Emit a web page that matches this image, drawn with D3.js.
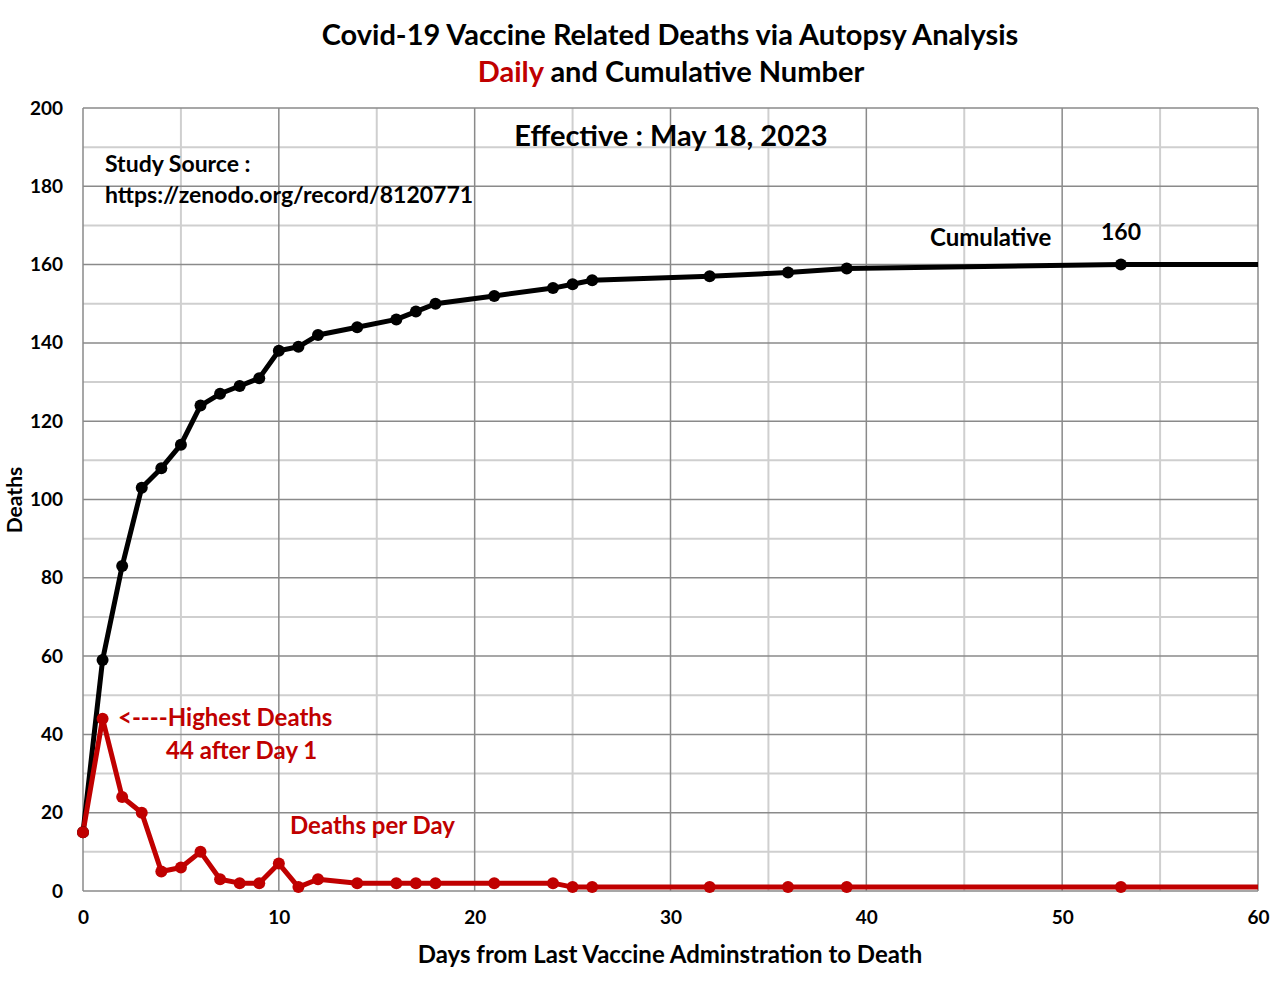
<!DOCTYPE html>
<html>
<head>
<meta charset="utf-8">
<script src="https://cdn.jsdelivr.net/npm/d3@7"></script>
<style>
  body { margin: 0; background: #fff; }
  text { font-family: Lato, "Open Sans", sans-serif; font-weight: bold; }
</style>
</head>
<body>
<div id="chart-area"></div>
<script>
// data
const days       = [0, 1, 2, 3, 4, 5, 6, 7, 8, 9, 10, 11, 12, 14, 16, 17, 18, 21, 24, 25, 26, 32, 36, 39, 53, 60];
const daily      = [15, 44, 24, 20, 5, 6, 10, 3, 2, 2, 7, 1, 3, 2, 2, 2, 2, 2, 2, 1, 1, 1, 1, 1, 1, 1];
const cumulative = [15, 59, 83, 103, 108, 114, 124, 127, 129, 131, 138, 139, 142, 144, 146, 148, 150, 152, 154, 155, 156, 157, 158, 159, 160, 160];
const xTicks = [0, 10, 20, 30, 40, 50, 60];
const yTicks = [0, 20, 40, 60, 80, 100, 120, 140, 160, 180, 200];

const red = "#c00000";

// margins
let margin = { lft: 83, rht: 29, top: 108, bot: 93 };
let width = 1287 - margin.lft - margin.rht;
let height = 984 - margin.top - margin.bot;

let svg = d3.select("#chart-area")
  .append("svg")
    .attr("width", 1287)
    .attr("height", 984);

let g = svg.append("g")
    .attr("transform", `translate(${margin.lft}, ${margin.top})`);

let x = d3.scaleLinear().domain([0, 60]).range([0, width]);
let y = d3.scaleLinear().domain([0, 200]).range([height, 0]);

// grid: minor every 5 / 10, major every 10 / 20
g.append("g").selectAll("line")
  .data(d3.range(5, 60, 10))
  .enter().append("line")
    .attr("x1", d => x(d)).attr("x2", d => x(d))
    .attr("y1", 0).attr("y2", height)
    .attr("stroke", "#cfcfcf").attr("stroke-width", 2);
g.append("g").selectAll("line")
  .data(d3.range(10, 200, 20))
  .enter().append("line")
    .attr("y1", d => y(d)).attr("y2", d => y(d))
    .attr("x1", 0).attr("x2", width)
    .attr("stroke", "#cfcfcf").attr("stroke-width", 2);
g.append("g").selectAll("line")
  .data(xTicks)
  .enter().append("line")
    .attr("x1", d => x(d)).attr("x2", d => x(d))
    .attr("y1", 0).attr("y2", height)
    .attr("stroke", "#8a8a8a").attr("stroke-width", 1.5);
g.append("g").selectAll("line")
  .data(yTicks)
  .enter().append("line")
    .attr("y1", d => y(d)).attr("y2", d => y(d))
    .attr("x1", 0).attr("x2", width)
    .attr("stroke", "#8a8a8a").attr("stroke-width", 1.5);

// axes (labels only)
let xAxisCall = d3.axisBottom(x).tickValues(xTicks).tickSize(0).tickPadding(20);
g.append("g")
  .attr("class", "x-axis")
  .attr("transform", `translate(0, ${height})`)
  .call(xAxisCall)
  .call(a => a.select(".domain").remove())
  .selectAll("text")
    .attr("font-size", "19px")
    .attr("fill", "#000");

let yAxisCall = d3.axisLeft(y).tickValues(yTicks).tickSize(0).tickPadding(20);
g.append("g")
  .attr("class", "y-axis")
  .call(yAxisCall)
  .call(a => a.select(".domain").remove())
  .selectAll("text")
    .attr("font-size", "19px")
    .attr("fill", "#000");

// lines
let line = (vals) => d3.line()
  .x((d, i) => x(days[i]))
  .y(d => y(d))(vals);

g.append("path")
  .attr("d", line(cumulative))
  .attr("fill", "none")
  .attr("stroke", "#000")
  .attr("stroke-width", 5)
  .attr("stroke-linejoin", "round");

g.append("path")
  .attr("d", line(daily))
  .attr("fill", "none")
  .attr("stroke", red)
  .attr("stroke-width", 5)
  .attr("stroke-linejoin", "round");

// markers (last point at day 60 has none)
g.selectAll(".dot-c")
  .data(cumulative.slice(0, -1))
  .enter().append("circle")
    .attr("class", "dot-c")
    .attr("cx", (d, i) => x(days[i]))
    .attr("cy", d => y(d))
    .attr("r", 6)
    .attr("fill", "#000");

g.selectAll(".dot-d")
  .data(daily.slice(0, -1))
  .enter().append("circle")
    .attr("class", "dot-d")
    .attr("cx", (d, i) => x(days[i]))
    .attr("cy", d => y(d))
    .attr("r", 6)
    .attr("fill", red);

// titles
svg.append("text")
  .attr("x", 670).attr("y", 45)
  .attr("text-anchor", "middle")
  .attr("font-size", "29px")
  .text("Covid-19 Vaccine Related Deaths via Autopsy Analysis");

let t2 = svg.append("text")
  .attr("x", 671).attr("y", 82)
  .attr("text-anchor", "middle")
  .attr("font-size", "29px");
t2.append("tspan").attr("fill", red).text("Daily");
t2.append("tspan").attr("fill", "#000").text(" and Cumulative Number");

svg.append("text")
  .attr("x", 671).attr("y", 146)
  .attr("text-anchor", "middle")
  .attr("font-size", "29px")
  .text("Effective : May 18, 2023");

svg.append("text")
  .attr("x", 105).attr("y", 172)
  .attr("font-size", "23px")
  .text("Study Source :");
svg.append("text")
  .attr("x", 105).attr("y", 203)
  .attr("font-size", "23px")
  .text("https://zenodo.org/record/8120771");

svg.append("text")
  .attr("x", 930).attr("y", 246)
  .attr("font-size", "24px")
  .text("Cumulative");
svg.append("text")
  .attr("x", 1121).attr("y", 240)
  .attr("text-anchor", "middle")
  .attr("font-size", "23px")
  .text("160");

svg.append("text")
  .attr("x", 118).attr("y", 726)
  .attr("font-size", "24px")
  .attr("fill", red)
  .text("<----Highest Deaths");
svg.append("text")
  .attr("x", 166).attr("y", 759)
  .attr("font-size", "24px")
  .attr("fill", red)
  .text("44 after Day 1");
svg.append("text")
  .attr("x", 290).attr("y", 834)
  .attr("font-size", "24px")
  .attr("fill", red)
  .text("Deaths per Day");

// axis labels
svg.append("text")
  .attr("x", 670).attr("y", 963)
  .attr("text-anchor", "middle")
  .attr("font-size", "24px")
  .text("Days from Last Vaccine Adminstration to Death");

svg.append("text")
  .attr("transform", "translate(22, 500) rotate(-90)")
  .attr("text-anchor", "middle")
  .attr("font-size", "21px")
  .text("Deaths");
</script>
</body>
</html>
